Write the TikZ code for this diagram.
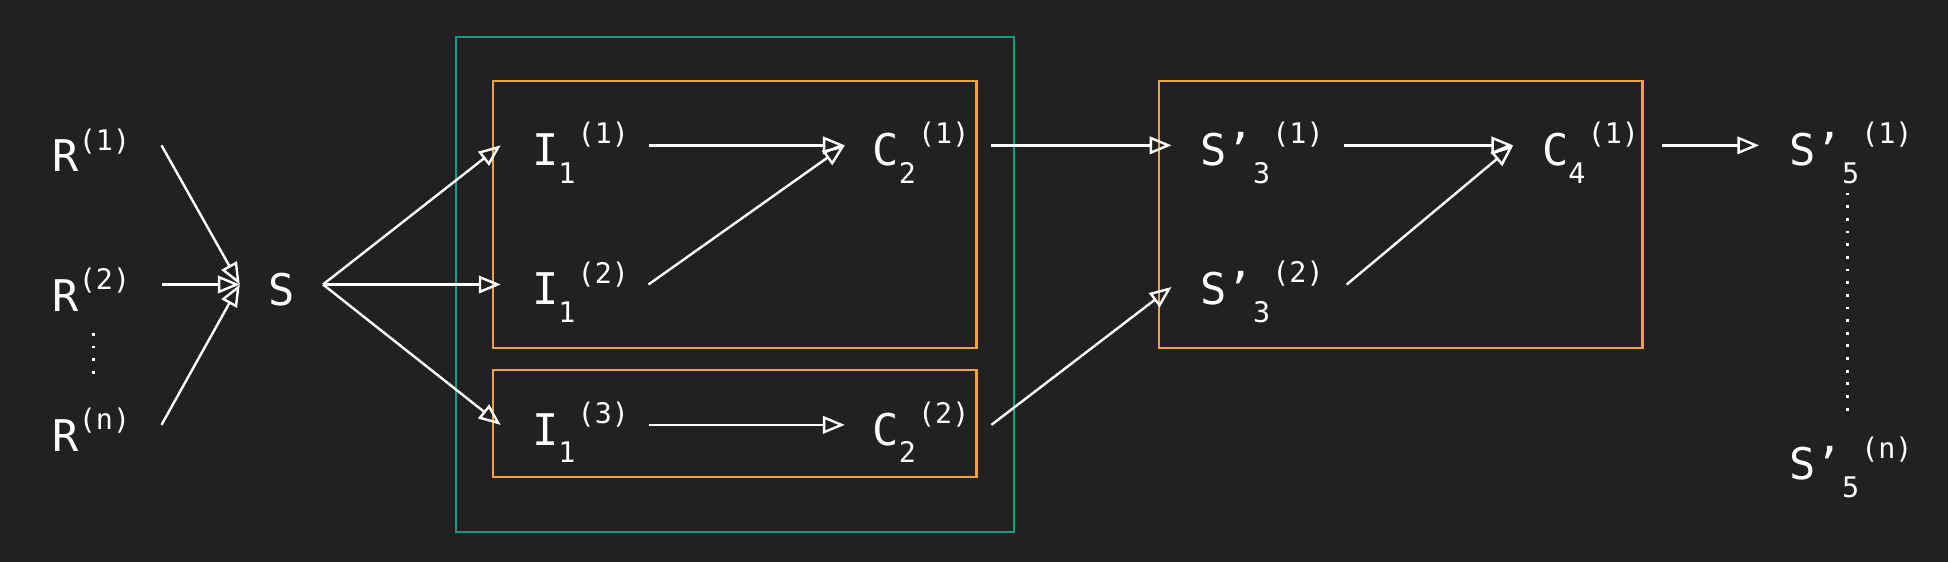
\documentclass[tikz,border=0pt]{standalone}
\usepackage{fontspec}
\setmainfont{DejaVu Sans Mono}
\usetikzlibrary{arrows.meta}
\definecolor{bg}{HTML}{212121}
\definecolor{teal1}{HTML}{149A85}
\definecolor{orng}{HTML}{F4A436}
\newcommand{\lab}[3]{#1\raisebox{-8pt}{\fontsize{13}{13}\selectfont #2}\hspace{1pt}\raisebox{10pt}{\fontsize{13}{13}\selectfont #3}}
\newcommand{\labr}[2]{#1\raisebox{10pt}{\fontsize{13}{13}\selectfont #2}}
\begin{document}
\begin{tikzpicture}[x=0.02cm,y=-0.02cm,
  lbl/.style={text=white,font=\fontsize{20}{20}\selectfont,anchor=west,inner sep=0pt},
  arr/.style={draw=white,line width=1.1pt,-{Triangle[open,length=10pt,width=8pt]}},
  obox/.style={draw=orng,line width=1.1pt},
  tbox/.style={draw=teal1,line width=1.1pt},
  dots/.style={draw=white,line width=1.3pt,dash pattern=on 1.3pt off 4.5pt}]
\fill[bg] (0,0) rectangle (1568,452);
\draw[tbox] (367,30) rectangle (816,428);
\draw[obox] (397,65) rectangle (786,280);
\draw[obox] (397,298) rectangle (786,384);
\draw[obox] (933,65) rectangle (1322,280);
\node[lbl] (r1) at (42,121) {\labr{R}{(1)}};
\node[lbl] (r2) at (42,233) {\labr{R}{(2)}};
\node[lbl] (rn) at (42,346) {\labr{R}{(n)}};
\node[lbl] (s) at (216,233) {S};
\node[lbl] (i1) at (428,123) {\lab{I}{1}{(1)}};
\node[lbl] (i2) at (428,235) {\lab{I}{1}{(2)}};
\node[lbl] (i3) at (428,348) {\lab{I}{1}{(3)}};
\node[lbl] (c21) at (702,123) {\lab{C}{2}{(1)}};
\node[lbl] (c22) at (702,348) {\lab{C}{2}{(2)}};
\node[lbl] (s31) at (966,123) {\lab{S’}{3}{(1)}};
\node[lbl] (s32) at (966,235) {\lab{S’}{3}{(2)}};
\node[lbl] (c41) at (1241,123) {\lab{C}{4}{(1)}};
\node[lbl] (s51) at (1440,123) {\lab{S’}{5}{(1)}};
\node[lbl] (s5n) at (1440,376) {\lab{S’}{5}{(n)}};
\coordinate (a1) at (130,117); \coordinate (a2) at (130,229); \coordinate (an) at (130,342);
\coordinate (sin) at (193,229); \coordinate (sout) at (260,229);
\coordinate (i1in) at (403,117); \coordinate (i2in) at (403,229); \coordinate (i3in) at (403,342);
\coordinate (i1o) at (522,117); \coordinate (i2o) at (522,229); \coordinate (i3o) at (522,342);
\coordinate (c21in) at (680,117); \coordinate (c22in) at (680,342);
\coordinate (c21o) at (798,117); \coordinate (c22o) at (798,342);
\coordinate (s31in) at (943,117); \coordinate (s32in) at (943,231);
\coordinate (s31o) at (1082,117); \coordinate (s32o) at (1084,229);
\coordinate (c41in) at (1218,117); \coordinate (c41o) at (1338,117);
\coordinate (s51in) at (1416,117);
\draw[arr] (a1) -- (sin); \draw[arr] (a2) -- (sin); \draw[arr] (an) -- (sin);
\draw[arr] (sout) -- (i1in); \draw[arr] (sout) -- (i2in); \draw[arr] (sout) -- (i3in);
\draw[arr] (i1o) -- (c21in); \draw[arr] (i2o) -- (c21in); \draw[arr] (i3o) -- (c22in);
\draw[arr] (c21o) -- (s31in); \draw[arr] (c22o) -- (s32in);
\draw[arr] (s31o) -- (c41in); \draw[arr] (s32o) -- (c41in);
\draw[arr] (c41o) -- (s51in);
\coordinate (d1) at (75,268); \coordinate (d2) at (75,304);
\coordinate (d3) at (1487,155); \coordinate (d4) at (1487,334);
\draw[dots] (d1) -- (d2);
\draw[dots] (d3) -- (d4);
\end{tikzpicture}
\end{document}
